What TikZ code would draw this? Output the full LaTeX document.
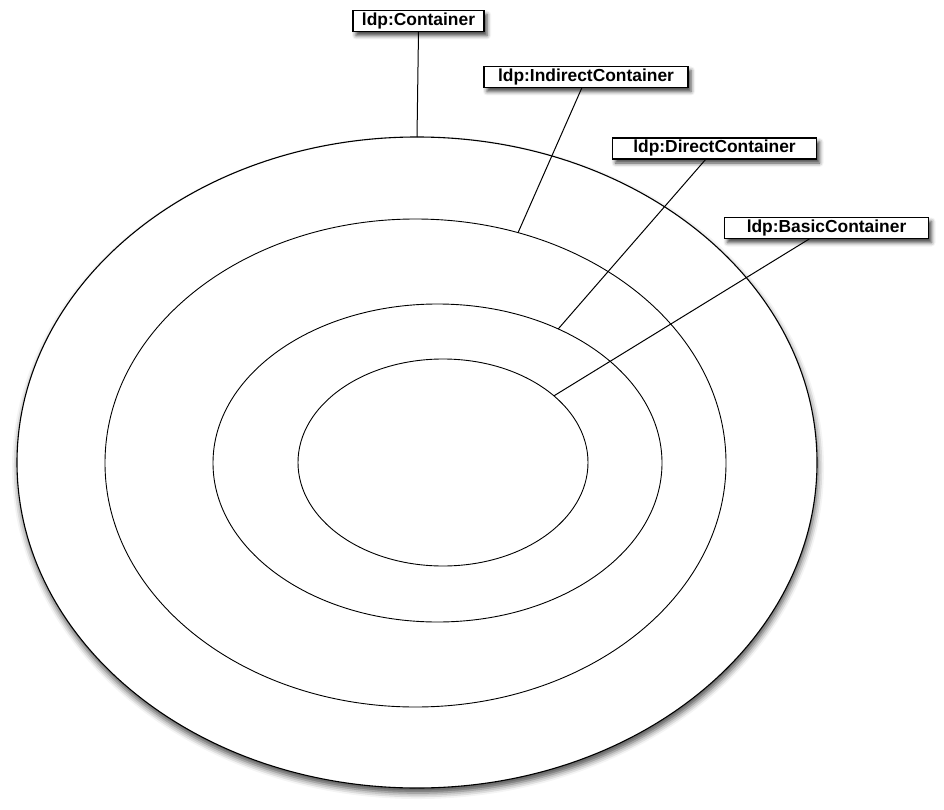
\documentclass[tikz,border=0pt]{standalone}
\usepackage{fontspec}
\setmainfont{Liberation Sans}
\usetikzlibrary{shapes.geometric,shadows.blur}
\tikzset{
  ring/.style={ellipse, draw, line width=0.9pt, inner sep=0pt, outer sep=0pt},
  label box/.style={rectangle, draw, line width=1.3pt, fill=white, inner sep=0pt, outer sep=0pt,
    minimum height=21pt, minimum width=204pt,
    font=\fontsize{17.4}{20}\selectfont\bfseries,
    blur shadow={shadow xshift=3pt, shadow yshift=-4pt, shadow blur radius=4pt, shadow opacity=75}},
  link/.style={draw, line width=1pt}
}
\begin{document}
\begin{tikzpicture}[x=1pt,y=-1pt]
\useasboundingbox (0,0) rectangle (944,810);
% rings
\node[ring, fill=white, line width=1.1pt, minimum width=800pt, minimum height=651pt,
  blur shadow={shadow xshift=1pt, shadow yshift=-5pt, shadow blur radius=6pt, shadow opacity=70}]
  (outer) at (417,462.5) {};
\node[ring, minimum width=621pt, minimum height=488pt] (indirect ring) at (415.5,463) {};
\node[ring, minimum width=449pt, minimum height=318pt] (direct ring) at (437.5,463) {};
\node[ring, minimum width=290pt, minimum height=207pt] (basic ring) at (443,462.5) {};
% labels
\node[label box, minimum width=131pt] (container) at (418.5,21) {ldp:Container};
\node[label box] (indirect) at (586,77) {ldp:IndirectContainer};
\node[label box] (direct) at (714.5,148.5) {ldp:DirectContainer};
\node[label box] (basic) at (826.5,228) {ldp:BasicContainer};
% connectors
\draw[link] (container.south) -- (outer.90);
\draw[link] ([xshift=-4pt]indirect.south) -- (indirect ring.66);
\draw[link] ([xshift=-8.5pt]direct.south) -- (direct ring.48.5);
\draw[link] ([xshift=-16.5pt]basic.south) -- (basic ring.31.3);
\end{tikzpicture}
\end{document}
